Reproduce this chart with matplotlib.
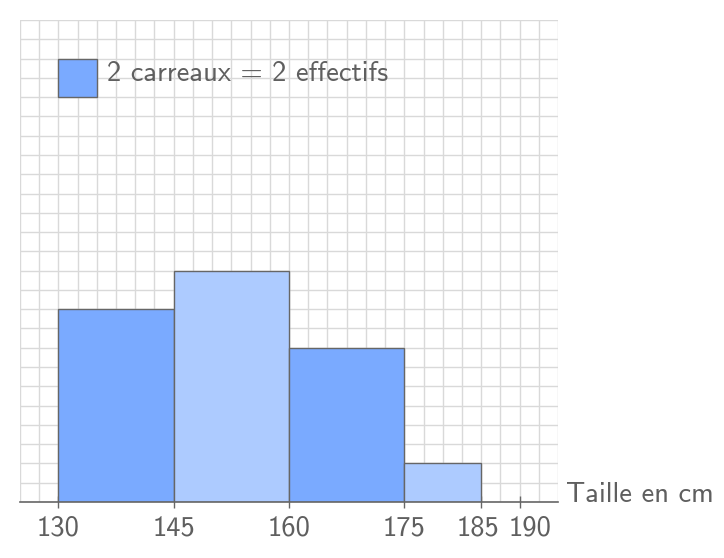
import numpy as np
import matplotlib.pyplot as plt
from matplotlib.transforms import ScaledTranslation

# classes de taille (cm) et effectifs
bornes = [130, 145, 160, 175, 185]
effectifs = [60, 72, 48, 8]
couleurs = ["#7aaaff", "#adcbff", "#7aaaff", "#adcbff"]
ticks = [130, 145, 160, 175, 185, 190]

carreau = 2.5  # largeur d'un carreau en cm
gris = "#5f5f5f"

plt.rcParams['font.family'] = ['cmss10', 'DejaVu Sans']

fig = plt.figure(figsize=(7.24, 5.58), dpi=100)
ax = fig.add_axes([20 / 724, 56 / 558, 538 / 724, 482 / 558])

# quadrillage
for x in np.arange(125, 195.01, carreau):
    ax.axvline(x, color="#d9d9d9", lw=1, zorder=0)
for y in range(0, 26):
    ax.axhline(y, color="#d9d9d9", lw=1, zorder=0)

# histogramme : 1 carreau = 1 effectif
largeurs = np.diff(bornes)
hauteurs = np.array(effectifs) / (largeurs / carreau)
ax.bar(bornes[:-1], hauteurs, width=largeurs, align="edge", color=couleurs,
       edgecolor="#666666", linewidth=1, zorder=2)

# légende
ax.bar([130], [2], width=5, bottom=21, align="edge", color="#7aaaff",
       edgecolor="#666666", linewidth=1, zorder=2)
ax.text(136.3, 22.25, "2 carreaux = 2 effectifs", fontsize=20.5, color=gris,
        va="center", ha="left")

ax.set_xlim(125, 195)
ax.set_ylim(0, 25)
for s in ["top", "right", "left"]:
    ax.spines[s].set_visible(False)
ax.spines["bottom"].set_color("#666666")
ax.spines["bottom"].set_linewidth(1.2)
ax.spines["bottom"].set_zorder(3)
ax.set_yticks([])
ax.set_xticks(ticks)
ax.tick_params(axis="x", length=8, width=1, color="#666666", labelsize=20.5,
               labelcolor=gris, pad=6, direction="inout")

# décaler 185 et 190 pour qu'ils ne se chevauchent pas
labels = ax.get_xticklabels()
decalages = {185: -3, 190: 10}
for t, lab in zip(ticks, labels):
    if t in decalages:
        lab.set_transform(lab.get_transform() +
                          ScaledTranslation(decalages[t] / 100, 0, fig.dpi_scale_trans))

ax.text(196.1, 0.4, "Taille en cm", fontsize=20.5, color=gris,
        va="center", ha="left", clip_on=False)

fig.savefig("out.png", dpi=100)
